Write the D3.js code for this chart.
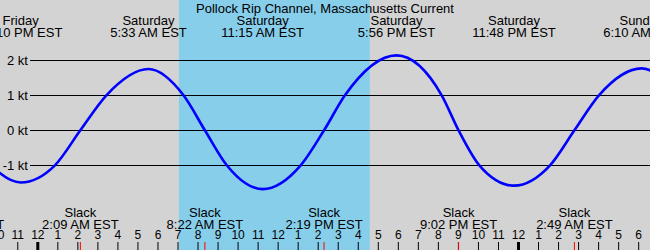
<!DOCTYPE html>
<html>
<head>
<meta charset="utf-8">
<script src="https://cdn.jsdelivr.net/npm/d3@7"></script>
<style>
  body { margin: 0; padding: 0; background: #d3d3d3; }
  svg { display: block; font-family: "Liberation Sans", Arial, sans-serif; }
</style>
</head>
<body>
<div id="chart"></div>
<script>
// hours counted from Saturday 00:00 EST
var title = "Pollock Rip Channel, Massachusetts Current";

var daylight = [7.07, 16.6];

// max / min current events (top labels)
var peakHours = [-0.833, 5.55, 11.25, 17.933, 23.8, 30.167];
var peakDays = ["Friday", "Saturday", "Saturday", "Saturday", "Saturday", "Sunday"];
var peakTimes = ["11:10 PM EST", "5:33 AM EST", "11:15 AM EST", "5:56 PM EST", "11:48 PM EST", "6:10 AM EST"];

// slack water events (bottom labels)
var slackHours = [-3.58, 2.15, 8.367, 14.317, 21.033, 26.817];
var slackTimes = ["8:25 PM EST", "2:09 AM EST", "8:22 AM EST", "2:19 PM EST", "9:02 PM EST", "2:49 AM EST"];

// current speed (kt)
var curveHours = [-3.58, -2.3, -0.833, 0.88, 2.15, 3.45, 5.55, 7.3, 8.367, 9.46, 11.25, 13.15,
                  14.317, 15.36, 17.933, 20.19, 21.033, 22.07, 23.8, 25.6, 26.817, 28.04, 30.167, 32.0, 33.2];
var curveKnots = [0, -1, -1.49, -1, 0, 1, 1.75, 1, 0, -1, -1.68, -1,
                  0, 1, 2.14, 1, 0, -1, -1.58, -1, 0, 1, 1.77, 1, 0];

var kts = [2, 1, 0, -1];
var hourTicks = d3.range(-2, 31);

var width = 650;
var height = 250;

var svg = d3.select("#chart").append("svg")
    .attr("width", width)
    .attr("height", height);

var x = d3.scaleLinear().domain([0, 24]).range([37.3, 518]);
var y = d3.scaleLinear().domain([-1, 2]).range([165.3, 60.3]);

svg.append("rect")
    .attr("width", width).attr("height", height)
    .style("fill", "#d3d3d3");

// daylight band
svg.append("rect")
    .attr("x", x(daylight[0]))
    .attr("y", 0)
    .attr("width", x(daylight[1]) - x(daylight[0]))
    .attr("height", height)
    .style("fill", "#87ceeb");

// grid lines + labels
svg.selectAll(".grid").data(kts).enter().append("line")
    .attr("x1", 30).attr("x2", width)
    .attr("y1", d => Math.round(y(d)) + 0.5)
    .attr("y2", d => Math.round(y(d)) + 0.5)
    .style("stroke", "black")
    .style("stroke-width", 1);

svg.selectAll(".klabel").data(kts).enter().append("text")
    .attr("x", 28)
    .attr("y", d => y(d) + 4.5)
    .attr("text-anchor", "end")
    .style("font-size", "13px")
    .text(d => d + " kt");

// current curve
var line = d3.line()
    .x((d, i) => x(curveHours[i]))
    .y(d => y(d))
    .curve(d3.curveMonotoneX);

svg.append("path")
    .datum(curveKnots)
    .attr("d", line)
    .style("fill", "none")
    .style("stroke", "#0000ff")
    .style("stroke-width", 2.6);

// title
svg.append("text")
    .attr("x", 325).attr("y", 12.5)
    .attr("text-anchor", "middle")
    .style("font-size", "13px")
    .text(title);

// top labels
var peaks = svg.selectAll(".peak").data(peakHours).enter().append("g")
    .attr("transform", d => "translate(" + x(d) + ",0)");
peaks.append("text").attr("y", 25).attr("text-anchor", "middle")
    .style("font-size", "13px")
    .text((d, i) => peakDays[i]);
peaks.append("text").attr("y", 37).attr("text-anchor", "middle")
    .style("font-size", "13px")
    .text((d, i) => peakTimes[i]);

// slack labels
var slack = svg.selectAll(".slack").data(slackHours).enter().append("g")
    .attr("transform", d => "translate(" + x(d) + ",0)");
slack.append("text").attr("y", 216.5).attr("text-anchor", "middle")
    .style("font-size", "13px")
    .text("Slack");
slack.append("text").attr("y", 228.5).attr("text-anchor", "middle")
    .style("font-size", "13px")
    .text((d, i) => slackTimes[i]);

// hour axis
var hourFormat = function(h){
    var v = ((h % 12) + 12) % 12;
    return v == 0 ? "12" : String(v);
};
var axis = d3.axisTop(x).tickValues(hourTicks).tickSize(8).tickPadding(3).tickFormat(hourFormat);
var ax = svg.append("g")
    .attr("transform", "translate(0," + height + ")")
    .call(axis);
ax.select(".domain").remove();
ax.selectAll("text").style("font-size", "12px").style("font-family", "'Liberation Sans', Arial, sans-serif").attr("fill", "black");
ax.selectAll("line").attr("stroke", "black")
    .style("stroke-width", d => (((d % 24) + 24) % 24 == 0) ? 3 : 1);

// slack tick marks
svg.selectAll(".sticks").data(slackHours).enter().append("line")
    .attr("x1", d => x(d)).attr("x2", d => x(d))
    .attr("y1", 242).attr("y2", height)
    .style("stroke", "red")
    .style("stroke-width", 1);
</script>
</body>
</html>
